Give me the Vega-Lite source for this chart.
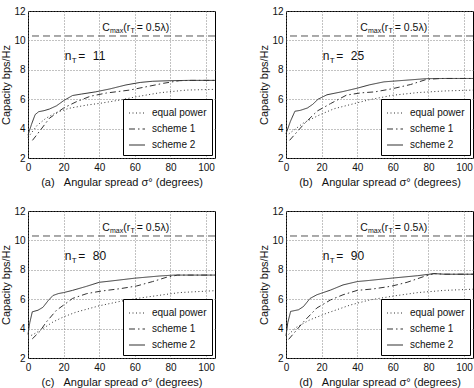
{
  "$schema": "https://vega.github.io/schema/vega-lite/v6.json",
  "padding": {"left": 0, "top": 5, "right": 3, "bottom": 2},
  "background": "white",
  "config": {
    "font": "Liberation Sans",
    "view": {"stroke": "#000", "strokeWidth": 1},
    "axis": {"domain": false, "ticks": false, "labelOverlap": false, "labelFlush": false, "labelFont": "Liberation Sans", "labelFontSize": 10, "labelColor": "#111", "titleFont": "Liberation Sans", "titleFontSize": 11, "titleFontWeight": "normal", "titleColor": "#111", "grid": true, "gridDash": [1, 2], "gridColor": "#777", "gridWidth": 0.9, "tickCount": 20},
    "axisX": {"labelPadding": 4, "titlePadding": 4},
    "axisY": {"labelPadding": 3, "titlePadding": 2},
    "legend": {"labelFont": "Liberation Sans", "labelFontSize": 10, "labelColor": "#111", "padding": 5, "rowPadding": 2, "labelOffset": 6, "symbolType": "stroke", "symbolSize": 256, "symbolStrokeWidth": 1.1, "symbolStrokeColor": "#333", "strokeColor": "#000", "fillColor": "#fff", "title": null}
  },
  "datasets": {
    "curves": [
      {"panel": "a", "scheme": "scheme 2", "angle": 0, "capacity": 3.55},
      {"panel": "a", "scheme": "scheme 2", "angle": 2, "capacity": 4.3},
      {"panel": "a", "scheme": "scheme 2", "angle": 4, "capacity": 4.95},
      {"panel": "a", "scheme": "scheme 2", "angle": 6, "capacity": 5.15},
      {"panel": "a", "scheme": "scheme 2", "angle": 9, "capacity": 5.22},
      {"panel": "a", "scheme": "scheme 2", "angle": 12, "capacity": 5.33},
      {"panel": "a", "scheme": "scheme 2", "angle": 16, "capacity": 5.55},
      {"panel": "a", "scheme": "scheme 2", "angle": 20, "capacity": 5.9},
      {"panel": "a", "scheme": "scheme 2", "angle": 25, "capacity": 6.25},
      {"panel": "a", "scheme": "scheme 2", "angle": 30, "capacity": 6.35},
      {"panel": "a", "scheme": "scheme 2", "angle": 38, "capacity": 6.5},
      {"panel": "a", "scheme": "scheme 2", "angle": 46, "capacity": 6.7},
      {"panel": "a", "scheme": "scheme 2", "angle": 55, "capacity": 6.97},
      {"panel": "a", "scheme": "scheme 2", "angle": 63, "capacity": 7.14},
      {"panel": "a", "scheme": "scheme 2", "angle": 70, "capacity": 7.22},
      {"panel": "a", "scheme": "scheme 2", "angle": 80, "capacity": 7.26},
      {"panel": "a", "scheme": "scheme 2", "angle": 90, "capacity": 7.28},
      {"panel": "a", "scheme": "scheme 2", "angle": 105, "capacity": 7.28},
      {"panel": "a", "scheme": "scheme 1", "angle": 2.5, "capacity": 3.2},
      {"panel": "a", "scheme": "scheme 1", "angle": 7, "capacity": 3.9},
      {"panel": "a", "scheme": "scheme 1", "angle": 12, "capacity": 4.7},
      {"panel": "a", "scheme": "scheme 1", "angle": 20, "capacity": 5.4},
      {"panel": "a", "scheme": "scheme 1", "angle": 27, "capacity": 5.82},
      {"panel": "a", "scheme": "scheme 1", "angle": 35, "capacity": 6.2},
      {"panel": "a", "scheme": "scheme 1", "angle": 44, "capacity": 6.42},
      {"panel": "a", "scheme": "scheme 1", "angle": 57, "capacity": 6.62},
      {"panel": "a", "scheme": "scheme 1", "angle": 67, "capacity": 6.86},
      {"panel": "a", "scheme": "scheme 1", "angle": 76, "capacity": 7.08},
      {"panel": "a", "scheme": "scheme 1", "angle": 85, "capacity": 7.26},
      {"panel": "a", "scheme": "scheme 1", "angle": 92, "capacity": 7.28},
      {"panel": "a", "scheme": "scheme 1", "angle": 105, "capacity": 7.28},
      {"panel": "a", "scheme": "equal power", "angle": 0, "capacity": 3.4},
      {"panel": "a", "scheme": "equal power", "angle": 5, "capacity": 4.2},
      {"panel": "a", "scheme": "equal power", "angle": 10, "capacity": 4.7},
      {"panel": "a", "scheme": "equal power", "angle": 16, "capacity": 5.1},
      {"panel": "a", "scheme": "equal power", "angle": 23, "capacity": 5.38},
      {"panel": "a", "scheme": "equal power", "angle": 33, "capacity": 5.6},
      {"panel": "a", "scheme": "equal power", "angle": 41, "capacity": 5.73},
      {"panel": "a", "scheme": "equal power", "angle": 52, "capacity": 5.95},
      {"panel": "a", "scheme": "equal power", "angle": 61, "capacity": 6.17},
      {"panel": "a", "scheme": "equal power", "angle": 74, "capacity": 6.44},
      {"panel": "a", "scheme": "equal power", "angle": 89, "capacity": 6.62},
      {"panel": "a", "scheme": "equal power", "angle": 105, "capacity": 6.67},

      {"panel": "b", "scheme": "scheme 2", "angle": 0, "capacity": 3.65},
      {"panel": "b", "scheme": "scheme 2", "angle": 2.5, "capacity": 4.5},
      {"panel": "b", "scheme": "scheme 2", "angle": 5, "capacity": 5.18},
      {"panel": "b", "scheme": "scheme 2", "angle": 8, "capacity": 5.24},
      {"panel": "b", "scheme": "scheme 2", "angle": 12, "capacity": 5.4},
      {"panel": "b", "scheme": "scheme 2", "angle": 15, "capacity": 5.65},
      {"panel": "b", "scheme": "scheme 2", "angle": 18, "capacity": 6.0},
      {"panel": "b", "scheme": "scheme 2", "angle": 23, "capacity": 6.3},
      {"panel": "b", "scheme": "scheme 2", "angle": 32, "capacity": 6.52},
      {"panel": "b", "scheme": "scheme 2", "angle": 40, "capacity": 6.75},
      {"panel": "b", "scheme": "scheme 2", "angle": 47, "capacity": 6.98},
      {"panel": "b", "scheme": "scheme 2", "angle": 55, "capacity": 7.18},
      {"panel": "b", "scheme": "scheme 2", "angle": 66, "capacity": 7.28},
      {"panel": "b", "scheme": "scheme 2", "angle": 79, "capacity": 7.4},
      {"panel": "b", "scheme": "scheme 2", "angle": 90, "capacity": 7.41},
      {"panel": "b", "scheme": "scheme 2", "angle": 105, "capacity": 7.41},
      {"panel": "b", "scheme": "scheme 1", "angle": 2, "capacity": 3.2},
      {"panel": "b", "scheme": "scheme 1", "angle": 10, "capacity": 4.3},
      {"panel": "b", "scheme": "scheme 1", "angle": 17.6, "capacity": 5.2},
      {"panel": "b", "scheme": "scheme 1", "angle": 25, "capacity": 5.7},
      {"panel": "b", "scheme": "scheme 1", "angle": 34, "capacity": 6.28},
      {"panel": "b", "scheme": "scheme 1", "angle": 42, "capacity": 6.43},
      {"panel": "b", "scheme": "scheme 1", "angle": 50, "capacity": 6.5},
      {"panel": "b", "scheme": "scheme 1", "angle": 60, "capacity": 6.72},
      {"panel": "b", "scheme": "scheme 1", "angle": 70, "capacity": 7.0},
      {"panel": "b", "scheme": "scheme 1", "angle": 79, "capacity": 7.35},
      {"panel": "b", "scheme": "scheme 1", "angle": 87, "capacity": 7.41},
      {"panel": "b", "scheme": "scheme 1", "angle": 105, "capacity": 7.41},
      {"panel": "b", "scheme": "equal power", "angle": 0, "capacity": 3.5},
      {"panel": "b", "scheme": "equal power", "angle": 10, "capacity": 4.4},
      {"panel": "b", "scheme": "equal power", "angle": 19.5, "capacity": 4.97},
      {"panel": "b", "scheme": "equal power", "angle": 27, "capacity": 5.35},
      {"panel": "b", "scheme": "equal power", "angle": 36, "capacity": 5.63},
      {"panel": "b", "scheme": "equal power", "angle": 47, "capacity": 5.97},
      {"panel": "b", "scheme": "equal power", "angle": 60, "capacity": 6.27},
      {"panel": "b", "scheme": "equal power", "angle": 74, "capacity": 6.45},
      {"panel": "b", "scheme": "equal power", "angle": 89, "capacity": 6.56},
      {"panel": "b", "scheme": "equal power", "angle": 105, "capacity": 6.62},

      {"panel": "c", "scheme": "scheme 2", "angle": 0, "capacity": 3.6},
      {"panel": "c", "scheme": "scheme 2", "angle": 1, "capacity": 4.4},
      {"panel": "c", "scheme": "scheme 2", "angle": 2.4, "capacity": 5.14},
      {"panel": "c", "scheme": "scheme 2", "angle": 5.6, "capacity": 5.25},
      {"panel": "c", "scheme": "scheme 2", "angle": 8.4, "capacity": 5.45},
      {"panel": "c", "scheme": "scheme 2", "angle": 11.3, "capacity": 5.9},
      {"panel": "c", "scheme": "scheme 2", "angle": 14, "capacity": 6.25},
      {"panel": "c", "scheme": "scheme 2", "angle": 17, "capacity": 6.38},
      {"panel": "c", "scheme": "scheme 2", "angle": 20, "capacity": 6.45},
      {"panel": "c", "scheme": "scheme 2", "angle": 25, "capacity": 6.6},
      {"panel": "c", "scheme": "scheme 2", "angle": 33, "capacity": 6.88},
      {"panel": "c", "scheme": "scheme 2", "angle": 40, "capacity": 7.15},
      {"panel": "c", "scheme": "scheme 2", "angle": 46, "capacity": 7.23},
      {"panel": "c", "scheme": "scheme 2", "angle": 60, "capacity": 7.43},
      {"panel": "c", "scheme": "scheme 2", "angle": 74, "capacity": 7.58},
      {"panel": "c", "scheme": "scheme 2", "angle": 82, "capacity": 7.64},
      {"panel": "c", "scheme": "scheme 2", "angle": 105, "capacity": 7.64},
      {"panel": "c", "scheme": "scheme 1", "angle": 2.4, "capacity": 3.3},
      {"panel": "c", "scheme": "scheme 1", "angle": 6.6, "capacity": 3.8},
      {"panel": "c", "scheme": "scheme 1", "angle": 10.3, "capacity": 4.45},
      {"panel": "c", "scheme": "scheme 1", "angle": 16, "capacity": 5.25},
      {"panel": "c", "scheme": "scheme 1", "angle": 20, "capacity": 5.6},
      {"panel": "c", "scheme": "scheme 1", "angle": 25, "capacity": 6.05},
      {"panel": "c", "scheme": "scheme 1", "angle": 33, "capacity": 6.38},
      {"panel": "c", "scheme": "scheme 1", "angle": 41, "capacity": 6.55},
      {"panel": "c", "scheme": "scheme 1", "angle": 52, "capacity": 6.72},
      {"panel": "c", "scheme": "scheme 1", "angle": 61, "capacity": 6.9},
      {"panel": "c", "scheme": "scheme 1", "angle": 70, "capacity": 7.2},
      {"panel": "c", "scheme": "scheme 1", "angle": 78, "capacity": 7.5},
      {"panel": "c", "scheme": "scheme 1", "angle": 84, "capacity": 7.64},
      {"panel": "c", "scheme": "scheme 1", "angle": 105, "capacity": 7.64},
      {"panel": "c", "scheme": "equal power", "angle": 0, "capacity": 3.45},
      {"panel": "c", "scheme": "equal power", "angle": 3, "capacity": 3.6},
      {"panel": "c", "scheme": "equal power", "angle": 8.4, "capacity": 4.0},
      {"panel": "c", "scheme": "equal power", "angle": 14, "capacity": 4.45},
      {"panel": "c", "scheme": "equal power", "angle": 20, "capacity": 4.8},
      {"panel": "c", "scheme": "equal power", "angle": 27, "capacity": 5.12},
      {"panel": "c", "scheme": "equal power", "angle": 40, "capacity": 5.55},
      {"panel": "c", "scheme": "equal power", "angle": 52, "capacity": 5.86},
      {"panel": "c", "scheme": "equal power", "angle": 61, "capacity": 6.05},
      {"panel": "c", "scheme": "equal power", "angle": 74, "capacity": 6.27},
      {"panel": "c", "scheme": "equal power", "angle": 85, "capacity": 6.45},
      {"panel": "c", "scheme": "equal power", "angle": 105, "capacity": 6.58},

      {"panel": "d", "scheme": "scheme 2", "angle": 0, "capacity": 3.5},
      {"panel": "d", "scheme": "scheme 2", "angle": 1, "capacity": 4.4},
      {"panel": "d", "scheme": "scheme 2", "angle": 2.6, "capacity": 5.17},
      {"panel": "d", "scheme": "scheme 2", "angle": 7, "capacity": 5.28},
      {"panel": "d", "scheme": "scheme 2", "angle": 9.8, "capacity": 5.5},
      {"panel": "d", "scheme": "scheme 2", "angle": 13.5, "capacity": 6.05},
      {"panel": "d", "scheme": "scheme 2", "angle": 17.3, "capacity": 6.3},
      {"panel": "d", "scheme": "scheme 2", "angle": 25, "capacity": 6.62},
      {"panel": "d", "scheme": "scheme 2", "angle": 32, "capacity": 6.97},
      {"panel": "d", "scheme": "scheme 2", "angle": 40, "capacity": 7.2},
      {"panel": "d", "scheme": "scheme 2", "angle": 47, "capacity": 7.28},
      {"panel": "d", "scheme": "scheme 2", "angle": 60, "capacity": 7.44},
      {"panel": "d", "scheme": "scheme 2", "angle": 74, "capacity": 7.6},
      {"panel": "d", "scheme": "scheme 2", "angle": 83, "capacity": 7.74},
      {"panel": "d", "scheme": "scheme 2", "angle": 89, "capacity": 7.7},
      {"panel": "d", "scheme": "scheme 2", "angle": 105, "capacity": 7.7},
      {"panel": "d", "scheme": "scheme 1", "angle": 1.5, "capacity": 3.27},
      {"panel": "d", "scheme": "scheme 1", "angle": 10, "capacity": 4.48},
      {"panel": "d", "scheme": "scheme 1", "angle": 17.3, "capacity": 5.4},
      {"panel": "d", "scheme": "scheme 1", "angle": 25, "capacity": 5.95},
      {"panel": "d", "scheme": "scheme 1", "angle": 32, "capacity": 6.3},
      {"panel": "d", "scheme": "scheme 1", "angle": 40, "capacity": 6.6},
      {"panel": "d", "scheme": "scheme 1", "angle": 49, "capacity": 6.7},
      {"panel": "d", "scheme": "scheme 1", "angle": 59, "capacity": 6.88},
      {"panel": "d", "scheme": "scheme 1", "angle": 68, "capacity": 7.15},
      {"panel": "d", "scheme": "scheme 1", "angle": 77.6, "capacity": 7.55},
      {"panel": "d", "scheme": "scheme 1", "angle": 83, "capacity": 7.74},
      {"panel": "d", "scheme": "scheme 1", "angle": 89, "capacity": 7.7},
      {"panel": "d", "scheme": "scheme 1", "angle": 105, "capacity": 7.7},
      {"panel": "d", "scheme": "equal power", "angle": 0, "capacity": 3.45},
      {"panel": "d", "scheme": "equal power", "angle": 6, "capacity": 4.1},
      {"panel": "d", "scheme": "equal power", "angle": 13.5, "capacity": 4.6},
      {"panel": "d", "scheme": "equal power", "angle": 23, "capacity": 5.05},
      {"panel": "d", "scheme": "equal power", "angle": 36, "capacity": 5.6},
      {"panel": "d", "scheme": "equal power", "angle": 47, "capacity": 5.95},
      {"panel": "d", "scheme": "equal power", "angle": 60.6, "capacity": 6.22},
      {"panel": "d", "scheme": "equal power", "angle": 74, "capacity": 6.45},
      {"panel": "d", "scheme": "equal power", "angle": 89, "capacity": 6.6},
      {"panel": "d", "scheme": "equal power", "angle": 105, "capacity": 6.68}
    ],
    "panels": [
      {"panel": "a", "n": "11"},
      {"panel": "b", "n": "25"},
      {"panel": "c", "n": "80"},
      {"panel": "d", "n": "90"}
    ]
  },
  "spacing": 17,
  "resolve": {"scale": {"strokeDash": "independent"}, "legend": {"strokeDash": "independent"}},
  "vconcat": [
    {
      "spacing": 40,
      "resolve": {"scale": {"strokeDash": "independent"}, "legend": {"strokeDash": "independent"}},
      "hconcat": [
        {
          "width": 187, "height": 147,
          "layer": [
            {"data": {"name": "curves"}, "transform": [{"filter": "datum.panel === 'a'"}],
             "mark": {"type": "line", "color": "#333", "strokeWidth": 1},
             "encoding": {
               "x": {"field": "angle", "type": "quantitative", "scale": {"domain": [0, 105], "nice": false}, "axis": {"values": [0, 20, 40, 60, 80, 100], "tickCount": 20, "format": "d", "title": "(a)\u00a0\u00a0\u00a0Angular spread σ° (degrees)"}},
               "y": {"field": "capacity", "type": "quantitative", "scale": {"domain": [2, 12], "nice": false}, "axis": {"values": [2, 4, 6, 8, 10, 12], "tickCount": 20, "format": "d", "title": "Capacity bps/Hz"}},
               "strokeDash": {"field": "scheme", "type": "nominal", "scale": {"domain": ["equal power", "scheme 1", "scheme 2"], "range": [[1, 2.5], [6, 3, 1.5, 3], [1, 0]]}, "legend": {"orient": "bottom-right", "offset": 3}}
             }},
            {"data": {"values": [{}]}, "mark": {"type": "rule", "color": "#555", "strokeDash": [7, 4], "strokeWidth": 1}, "encoding": {"y": {"datum": 10.3}}},
            {"data": {"values": [{}]}, "mark": {"type": "text", "text": "C", "align": "left", "baseline": "alphabetic", "fontSize": 10.5, "color": "#111"}, "encoding": {"x": {"datum": 41.7}, "y": {"datum": 10.64}}},
            {"data": {"values": [{}]}, "mark": {"type": "text", "text": "max", "align": "left", "baseline": "alphabetic", "fontSize": 7, "dx": 7.7, "dy": 2.5, "color": "#111"}, "encoding": {"x": {"datum": 41.7}, "y": {"datum": 10.64}}},
            {"data": {"values": [{}]}, "mark": {"type": "text", "text": "(r", "align": "left", "baseline": "alphabetic", "fontSize": 10.5, "dx": 21, "color": "#111"}, "encoding": {"x": {"datum": 41.7}, "y": {"datum": 10.64}}},
            {"data": {"values": [{}]}, "mark": {"type": "text", "text": "T", "align": "left", "baseline": "alphabetic", "fontSize": 7, "dx": 28.2, "dy": 2.5, "color": "#111"}, "encoding": {"x": {"datum": 41.7}, "y": {"datum": 10.64}}},
            {"data": {"values": [{}]}, "mark": {"type": "text", "text": "= 0.5λ)", "align": "left", "baseline": "alphabetic", "fontSize": 10.5, "dx": 34.5, "color": "#111"}, "encoding": {"x": {"datum": 41.7}, "y": {"datum": 10.64}}},
            {"data": {"values": [{}]}, "mark": {"type": "text", "text": "n", "align": "left", "baseline": "alphabetic", "fontSize": 12, "color": "#111"}, "encoding": {"x": {"datum": 20.7}, "y": {"datum": 8.7}}},
            {"data": {"values": [{}]}, "mark": {"type": "text", "text": "T", "align": "left", "baseline": "alphabetic", "fontSize": 8, "dx": 6.9, "dy": 3.5, "color": "#111"}, "encoding": {"x": {"datum": 20.7}, "y": {"datum": 8.7}}},
            {"data": {"values": [{}]}, "mark": {"type": "text", "text": "=", "align": "left", "baseline": "alphabetic", "fontSize": 12, "dx": 13.3, "color": "#111"}, "encoding": {"x": {"datum": 20.7}, "y": {"datum": 8.7}}},
            {"data": {"name": "panels"}, "transform": [{"filter": "datum.panel === 'a'"}], "mark": {"type": "text", "align": "left", "baseline": "alphabetic", "fontSize": 12, "dx": 28, "color": "#111"}, "encoding": {"x": {"datum": 20.7}, "y": {"datum": 8.7}, "text": {"field": "n"}}}
          ]
        },
        {
          "width": 187, "height": 147,
          "layer": [
            {"data": {"name": "curves"}, "transform": [{"filter": "datum.panel === 'b'"}],
             "mark": {"type": "line", "color": "#333", "strokeWidth": 1},
             "encoding": {
               "x": {"field": "angle", "type": "quantitative", "scale": {"domain": [0, 105], "nice": false}, "axis": {"values": [0, 20, 40, 60, 80, 100], "tickCount": 20, "format": "d", "title": "(b)\u00a0\u00a0\u00a0Angular spread σ° (degrees)"}},
               "y": {"field": "capacity", "type": "quantitative", "scale": {"domain": [2, 12], "nice": false}, "axis": {"values": [2, 4, 6, 8, 10, 12], "tickCount": 20, "format": "d", "title": "Capacity bps/Hz"}},
               "strokeDash": {"field": "scheme", "type": "nominal", "scale": {"domain": ["equal power", "scheme 1", "scheme 2"], "range": [[1, 2.5], [6, 3, 1.5, 3], [1, 0]]}, "legend": {"orient": "bottom-right", "offset": 3}}
             }},
            {"data": {"values": [{}]}, "mark": {"type": "rule", "color": "#555", "strokeDash": [7, 4], "strokeWidth": 1}, "encoding": {"y": {"datum": 10.3}}},
            {"data": {"values": [{}]}, "mark": {"type": "text", "text": "C", "align": "left", "baseline": "alphabetic", "fontSize": 10.5, "color": "#111"}, "encoding": {"x": {"datum": 41.7}, "y": {"datum": 10.64}}},
            {"data": {"values": [{}]}, "mark": {"type": "text", "text": "max", "align": "left", "baseline": "alphabetic", "fontSize": 7, "dx": 7.7, "dy": 2.5, "color": "#111"}, "encoding": {"x": {"datum": 41.7}, "y": {"datum": 10.64}}},
            {"data": {"values": [{}]}, "mark": {"type": "text", "text": "(r", "align": "left", "baseline": "alphabetic", "fontSize": 10.5, "dx": 21, "color": "#111"}, "encoding": {"x": {"datum": 41.7}, "y": {"datum": 10.64}}},
            {"data": {"values": [{}]}, "mark": {"type": "text", "text": "T", "align": "left", "baseline": "alphabetic", "fontSize": 7, "dx": 28.2, "dy": 2.5, "color": "#111"}, "encoding": {"x": {"datum": 41.7}, "y": {"datum": 10.64}}},
            {"data": {"values": [{}]}, "mark": {"type": "text", "text": "= 0.5λ)", "align": "left", "baseline": "alphabetic", "fontSize": 10.5, "dx": 34.5, "color": "#111"}, "encoding": {"x": {"datum": 41.7}, "y": {"datum": 10.64}}},
            {"data": {"values": [{}]}, "mark": {"type": "text", "text": "n", "align": "left", "baseline": "alphabetic", "fontSize": 12, "color": "#111"}, "encoding": {"x": {"datum": 20.7}, "y": {"datum": 8.7}}},
            {"data": {"values": [{}]}, "mark": {"type": "text", "text": "T", "align": "left", "baseline": "alphabetic", "fontSize": 8, "dx": 6.9, "dy": 3.5, "color": "#111"}, "encoding": {"x": {"datum": 20.7}, "y": {"datum": 8.7}}},
            {"data": {"values": [{}]}, "mark": {"type": "text", "text": "=", "align": "left", "baseline": "alphabetic", "fontSize": 12, "dx": 13.3, "color": "#111"}, "encoding": {"x": {"datum": 20.7}, "y": {"datum": 8.7}}},
            {"data": {"name": "panels"}, "transform": [{"filter": "datum.panel === 'b'"}], "mark": {"type": "text", "align": "left", "baseline": "alphabetic", "fontSize": 12, "dx": 28, "color": "#111"}, "encoding": {"x": {"datum": 20.7}, "y": {"datum": 8.7}, "text": {"field": "n"}}}
          ]
        }
      ]
    },
    {
      "spacing": 40,
      "resolve": {"scale": {"strokeDash": "independent"}, "legend": {"strokeDash": "independent"}},
      "hconcat": [
        {
          "width": 187, "height": 147,
          "layer": [
            {"data": {"name": "curves"}, "transform": [{"filter": "datum.panel === 'c'"}],
             "mark": {"type": "line", "color": "#333", "strokeWidth": 1},
             "encoding": {
               "x": {"field": "angle", "type": "quantitative", "scale": {"domain": [0, 105], "nice": false}, "axis": {"values": [0, 20, 40, 60, 80, 100], "tickCount": 20, "format": "d", "title": "(c)\u00a0\u00a0\u00a0Angular spread σ° (degrees)"}},
               "y": {"field": "capacity", "type": "quantitative", "scale": {"domain": [2, 12], "nice": false}, "axis": {"values": [2, 4, 6, 8, 10, 12], "tickCount": 20, "format": "d", "title": "Capacity bps/Hz"}},
               "strokeDash": {"field": "scheme", "type": "nominal", "scale": {"domain": ["equal power", "scheme 1", "scheme 2"], "range": [[1, 2.5], [6, 3, 1.5, 3], [1, 0]]}, "legend": {"orient": "bottom-right", "offset": 3}}
             }},
            {"data": {"values": [{}]}, "mark": {"type": "rule", "color": "#555", "strokeDash": [7, 4], "strokeWidth": 1}, "encoding": {"y": {"datum": 10.3}}},
            {"data": {"values": [{}]}, "mark": {"type": "text", "text": "C", "align": "left", "baseline": "alphabetic", "fontSize": 10.5, "color": "#111"}, "encoding": {"x": {"datum": 41.7}, "y": {"datum": 10.64}}},
            {"data": {"values": [{}]}, "mark": {"type": "text", "text": "max", "align": "left", "baseline": "alphabetic", "fontSize": 7, "dx": 7.7, "dy": 2.5, "color": "#111"}, "encoding": {"x": {"datum": 41.7}, "y": {"datum": 10.64}}},
            {"data": {"values": [{}]}, "mark": {"type": "text", "text": "(r", "align": "left", "baseline": "alphabetic", "fontSize": 10.5, "dx": 21, "color": "#111"}, "encoding": {"x": {"datum": 41.7}, "y": {"datum": 10.64}}},
            {"data": {"values": [{}]}, "mark": {"type": "text", "text": "T", "align": "left", "baseline": "alphabetic", "fontSize": 7, "dx": 28.2, "dy": 2.5, "color": "#111"}, "encoding": {"x": {"datum": 41.7}, "y": {"datum": 10.64}}},
            {"data": {"values": [{}]}, "mark": {"type": "text", "text": "= 0.5λ)", "align": "left", "baseline": "alphabetic", "fontSize": 10.5, "dx": 34.5, "color": "#111"}, "encoding": {"x": {"datum": 41.7}, "y": {"datum": 10.64}}},
            {"data": {"values": [{}]}, "mark": {"type": "text", "text": "n", "align": "left", "baseline": "alphabetic", "fontSize": 12, "color": "#111"}, "encoding": {"x": {"datum": 20.7}, "y": {"datum": 8.7}}},
            {"data": {"values": [{}]}, "mark": {"type": "text", "text": "T", "align": "left", "baseline": "alphabetic", "fontSize": 8, "dx": 6.9, "dy": 3.5, "color": "#111"}, "encoding": {"x": {"datum": 20.7}, "y": {"datum": 8.7}}},
            {"data": {"values": [{}]}, "mark": {"type": "text", "text": "=", "align": "left", "baseline": "alphabetic", "fontSize": 12, "dx": 13.3, "color": "#111"}, "encoding": {"x": {"datum": 20.7}, "y": {"datum": 8.7}}},
            {"data": {"name": "panels"}, "transform": [{"filter": "datum.panel === 'c'"}], "mark": {"type": "text", "align": "left", "baseline": "alphabetic", "fontSize": 12, "dx": 28, "color": "#111"}, "encoding": {"x": {"datum": 20.7}, "y": {"datum": 8.7}, "text": {"field": "n"}}}
          ]
        },
        {
          "width": 187, "height": 147,
          "layer": [
            {"data": {"name": "curves"}, "transform": [{"filter": "datum.panel === 'd'"}],
             "mark": {"type": "line", "color": "#333", "strokeWidth": 1},
             "encoding": {
               "x": {"field": "angle", "type": "quantitative", "scale": {"domain": [0, 105], "nice": false}, "axis": {"values": [0, 20, 40, 60, 80, 100], "tickCount": 20, "format": "d", "title": "(d)\u00a0\u00a0\u00a0Angular spread σ° (degrees)"}},
               "y": {"field": "capacity", "type": "quantitative", "scale": {"domain": [2, 12], "nice": false}, "axis": {"values": [2, 4, 6, 8, 10, 12], "tickCount": 20, "format": "d", "title": "Capacity bps/Hz"}},
               "strokeDash": {"field": "scheme", "type": "nominal", "scale": {"domain": ["equal power", "scheme 1", "scheme 2"], "range": [[1, 2.5], [6, 3, 1.5, 3], [1, 0]]}, "legend": {"orient": "bottom-right", "offset": 3}}
             }},
            {"data": {"values": [{}]}, "mark": {"type": "rule", "color": "#555", "strokeDash": [7, 4], "strokeWidth": 1}, "encoding": {"y": {"datum": 10.3}}},
            {"data": {"values": [{}]}, "mark": {"type": "text", "text": "C", "align": "left", "baseline": "alphabetic", "fontSize": 10.5, "color": "#111"}, "encoding": {"x": {"datum": 41.7}, "y": {"datum": 10.64}}},
            {"data": {"values": [{}]}, "mark": {"type": "text", "text": "max", "align": "left", "baseline": "alphabetic", "fontSize": 7, "dx": 7.7, "dy": 2.5, "color": "#111"}, "encoding": {"x": {"datum": 41.7}, "y": {"datum": 10.64}}},
            {"data": {"values": [{}]}, "mark": {"type": "text", "text": "(r", "align": "left", "baseline": "alphabetic", "fontSize": 10.5, "dx": 21, "color": "#111"}, "encoding": {"x": {"datum": 41.7}, "y": {"datum": 10.64}}},
            {"data": {"values": [{}]}, "mark": {"type": "text", "text": "T", "align": "left", "baseline": "alphabetic", "fontSize": 7, "dx": 28.2, "dy": 2.5, "color": "#111"}, "encoding": {"x": {"datum": 41.7}, "y": {"datum": 10.64}}},
            {"data": {"values": [{}]}, "mark": {"type": "text", "text": "= 0.5λ)", "align": "left", "baseline": "alphabetic", "fontSize": 10.5, "dx": 34.5, "color": "#111"}, "encoding": {"x": {"datum": 41.7}, "y": {"datum": 10.64}}},
            {"data": {"values": [{}]}, "mark": {"type": "text", "text": "n", "align": "left", "baseline": "alphabetic", "fontSize": 12, "color": "#111"}, "encoding": {"x": {"datum": 20.7}, "y": {"datum": 8.7}}},
            {"data": {"values": [{}]}, "mark": {"type": "text", "text": "T", "align": "left", "baseline": "alphabetic", "fontSize": 8, "dx": 6.9, "dy": 3.5, "color": "#111"}, "encoding": {"x": {"datum": 20.7}, "y": {"datum": 8.7}}},
            {"data": {"values": [{}]}, "mark": {"type": "text", "text": "=", "align": "left", "baseline": "alphabetic", "fontSize": 12, "dx": 13.3, "color": "#111"}, "encoding": {"x": {"datum": 20.7}, "y": {"datum": 8.7}}},
            {"data": {"name": "panels"}, "transform": [{"filter": "datum.panel === 'd'"}], "mark": {"type": "text", "align": "left", "baseline": "alphabetic", "fontSize": 12, "dx": 28, "color": "#111"}, "encoding": {"x": {"datum": 20.7}, "y": {"datum": 8.7}, "text": {"field": "n"}}}
          ]
        }
      ]
    }
  ]
}
